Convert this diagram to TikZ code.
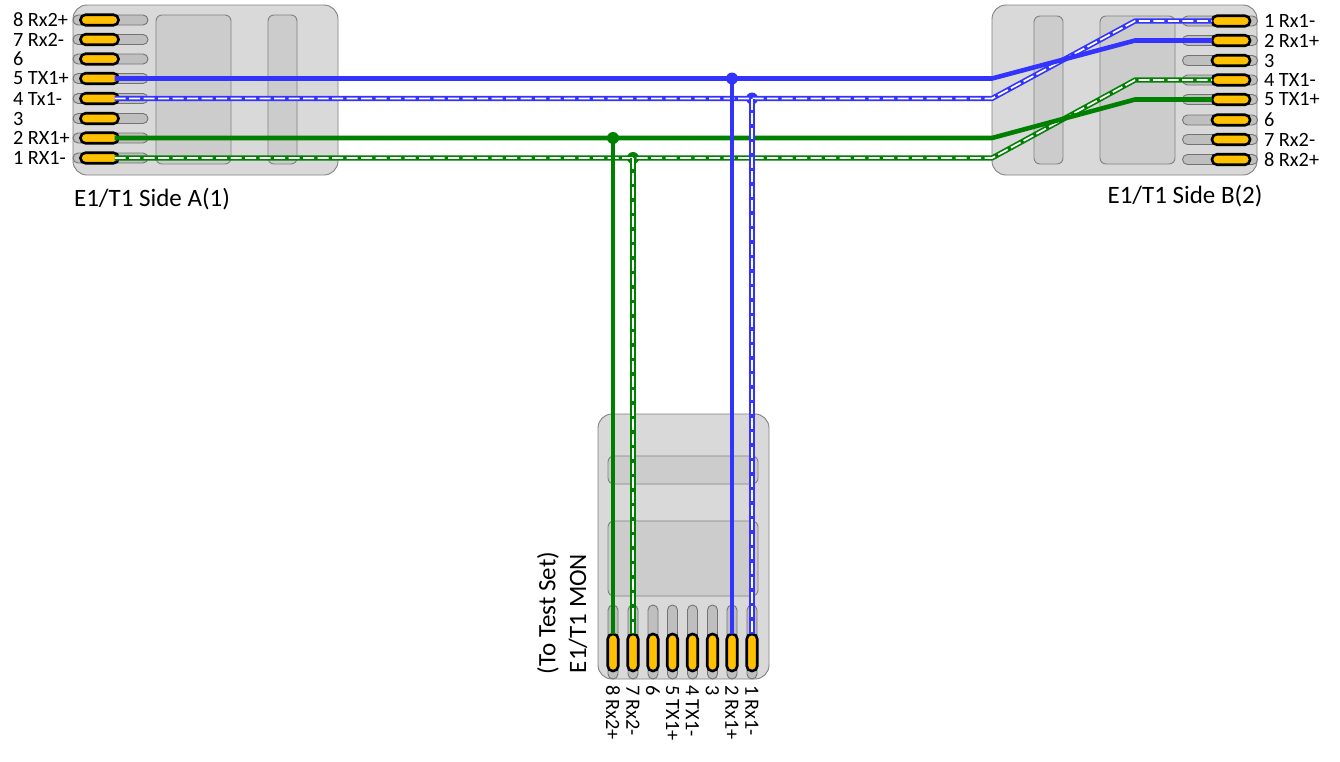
\documentclass[tikz,border=0pt]{standalone}
\usepackage{fontspec}
\setmainfont{Carlito}
\definecolor{pinyellow}{HTML}{FFC000}
\definecolor{wireblue}{HTML}{3333FF}
\definecolor{wiregreen}{HTML}{008000}
\begin{document}
\begin{tikzpicture}[
		x=1pt,
		y=-1pt,
		every node/.style={inner sep=0pt, outer sep=0pt},
		body/.style={draw=black!50, line width=0.9pt, fill=black!15, rounded corners=14pt},
		block/.style={draw=black!50, line width=0.9pt, fill=black!20, rounded corners=6pt},
		slot/.style={draw=black!55, line width=0.9pt, fill=black!25, rounded corners=5pt},
		pin/.style={draw=black, line width=2.6pt, fill=pinyellow, rounded corners=5pt},
		hslot/.style={slot, minimum width=75pt, minimum height=10pt},
		vslot/.style={slot, minimum width=10pt, minimum height=74pt},
		hpin/.style={pin, minimum width=38pt, minimum height=10.5pt},
		vpin/.style={pin, minimum width=10.5pt, minimum height=37pt},
		pin label/.style={font=\fontsize{20.3}{20}\selectfont, anchor=west},
		side label/.style={font=\fontsize{25}{25}\selectfont},
		mon label/.style={font=\fontsize{25}{25}\selectfont, rotate=90, anchor=west},
		solid wire/.style={line width=4.6pt, line join=round},
		dash wire/.style={line width=5.2pt, line join=round, postaction={draw=white, line width=1.8pt, dash pattern=on 11pt off 3.5pt}},
		txblue/.style={draw=wireblue},
		rxgreen/.style={draw=wiregreen},
		joint/.style={circle, minimum size=12pt},
		small joint/.style={circle, minimum size=12pt}
		]

	\useasboundingbox (0, 0) rectangle (1340, 761);

	% Side A
	\node[body, minimum width=265pt, minimum height=170pt] (sidea) at (205.5, 90) {};
	\node[block, minimum width=75pt, minimum height=149pt] (sidea big) at (193.5, 89.5) {};
	\node[block, minimum width=29pt, minimum height=149pt] (sidea small) at (282.5, 89.5) {};
	\foreach \n/\y/\txt in {8/20/8 Rx2+, 7/39.5/7 Rx2-, 6/59/6, 5/78.5/5 TX1+, 4/98.5/4 Tx1-, 3/118.5/3, 2/138/2 RX1+, 1/158/1 RX1-}{
		\node[hslot] (sa\n) at (110.5, \y) {};
		\node[hpin] (a\n) at (99.5, \y) {};
		\node[pin label] (la\n) at (13, \y) {\txt};
	}
	\node[side label] (namea) at (152, 199) {E1/T1 Side A(1)};

	% Side B
	\node[body, minimum width=265pt, minimum height=170pt] (sideb) at (1124.5, 90) {};
	\node[block, minimum width=29pt, minimum height=148pt] (sideb small) at (1048.5, 90) {};
	\node[block, minimum width=75pt, minimum height=148pt] (sideb big) at (1137.5, 90) {};
	\foreach \n/\y/\txt in {1/21/1 Rx1-, 2/40.5/2 Rx1+, 3/60.5/3, 4/80/4 TX1-, 5/99.5/5 TX1+, 6/120/6, 7/139.5/7 Rx2-, 8/159.5/8 Rx2+}{
		\node[hslot] (sb\n) at (1220, \y) {};
		\node[hpin] (b\n) at (1231, \y) {};
		\node[pin label] (lb\n) at (1264, \y) {\txt};
	}
	\node[side label] (nameb) at (1185, 196) {E1/T1 Side B(2)};

	% Monitor
	\node[body, minimum width=171pt, minimum height=265pt] (mon) at (683.5, 546.5) {};
	\node[block, minimum width=150pt, minimum height=28pt] (mon small) at (683, 470) {};
	\node[block, minimum width=150pt, minimum height=75pt] (mon big) at (683, 558.5) {};
	\foreach \n/\x/\txt in {8/613/8 Rx2+, 7/633/7 Rx2-, 6/653/6, 5/672.5/5 TX1+, 4/692.5/4 TX1-, 3/712.5/3, 2/732/2 Rx1+, 1/752/1 Rx1-}{
		\node[vslot] (sm\n) at (\x, 642) {};
		\node[vpin] (m\n) at (\x, 652.5) {};
		\node[pin label, rotate=-90] (lm\n) at (\x, 685) {\txt};
	}
	\node[mon label] (monname) at (578, 673) {E1/T1 MON};
	\node[mon label] (monset) at (548, 674) {(To Test Set)};

	% Joints and bends
	\node[joint, fill=wireblue] (j1) at (732, 78.5) {};
	\node[small joint, fill=wireblue] (j2) at (752, 98.5) {};
	\node[joint, fill=wiregreen] (j3) at (613, 138) {};
	\node[small joint, fill=wiregreen] (j4) at (633, 158) {};
	\coordinate (t1) at (992, 78.5);
	\coordinate (t2) at (992, 98.5);
	\coordinate (t3) at (992, 138);
	\coordinate (t4) at (992, 158);
	\coordinate (u1) at (1135, 40.5);
	\coordinate (u2) at (1135, 21);
	\coordinate (u3) at (1135, 99.5);
	\coordinate (u4) at (1135, 80);

	% Wires to side B
	\draw[rxgreen, dash wire] (a1.center) ++(15, 0) -- (j4.center) -- (t4) -- (u4) -- (b4.west);
	\draw[rxgreen, solid wire] (a2.center) ++(15, 0) -- (j3.center) -- (t3) -- (u3) -- (b5.west);
	\draw[txblue, dash wire] (a4.center) ++(15, 0) -- (j2.center) -- (t2) -- (u2) -- (b1.west);
	\draw[txblue, solid wire] (a5.center) ++(15, 0) -- (j1.center) -- (t1) -- (u1) -- (b2.west);

	% Wires to monitor
	\draw[rxgreen, solid wire] (j3.center) -- (m8.north);
	\draw[rxgreen, dash wire] (j4.center) -- (m7.north);
	\draw[txblue, solid wire] (j1.center) -- (m2.north);
	\draw[txblue, dash wire] (j2.center) -- (m1.north);

\end{tikzpicture}
\end{document}
